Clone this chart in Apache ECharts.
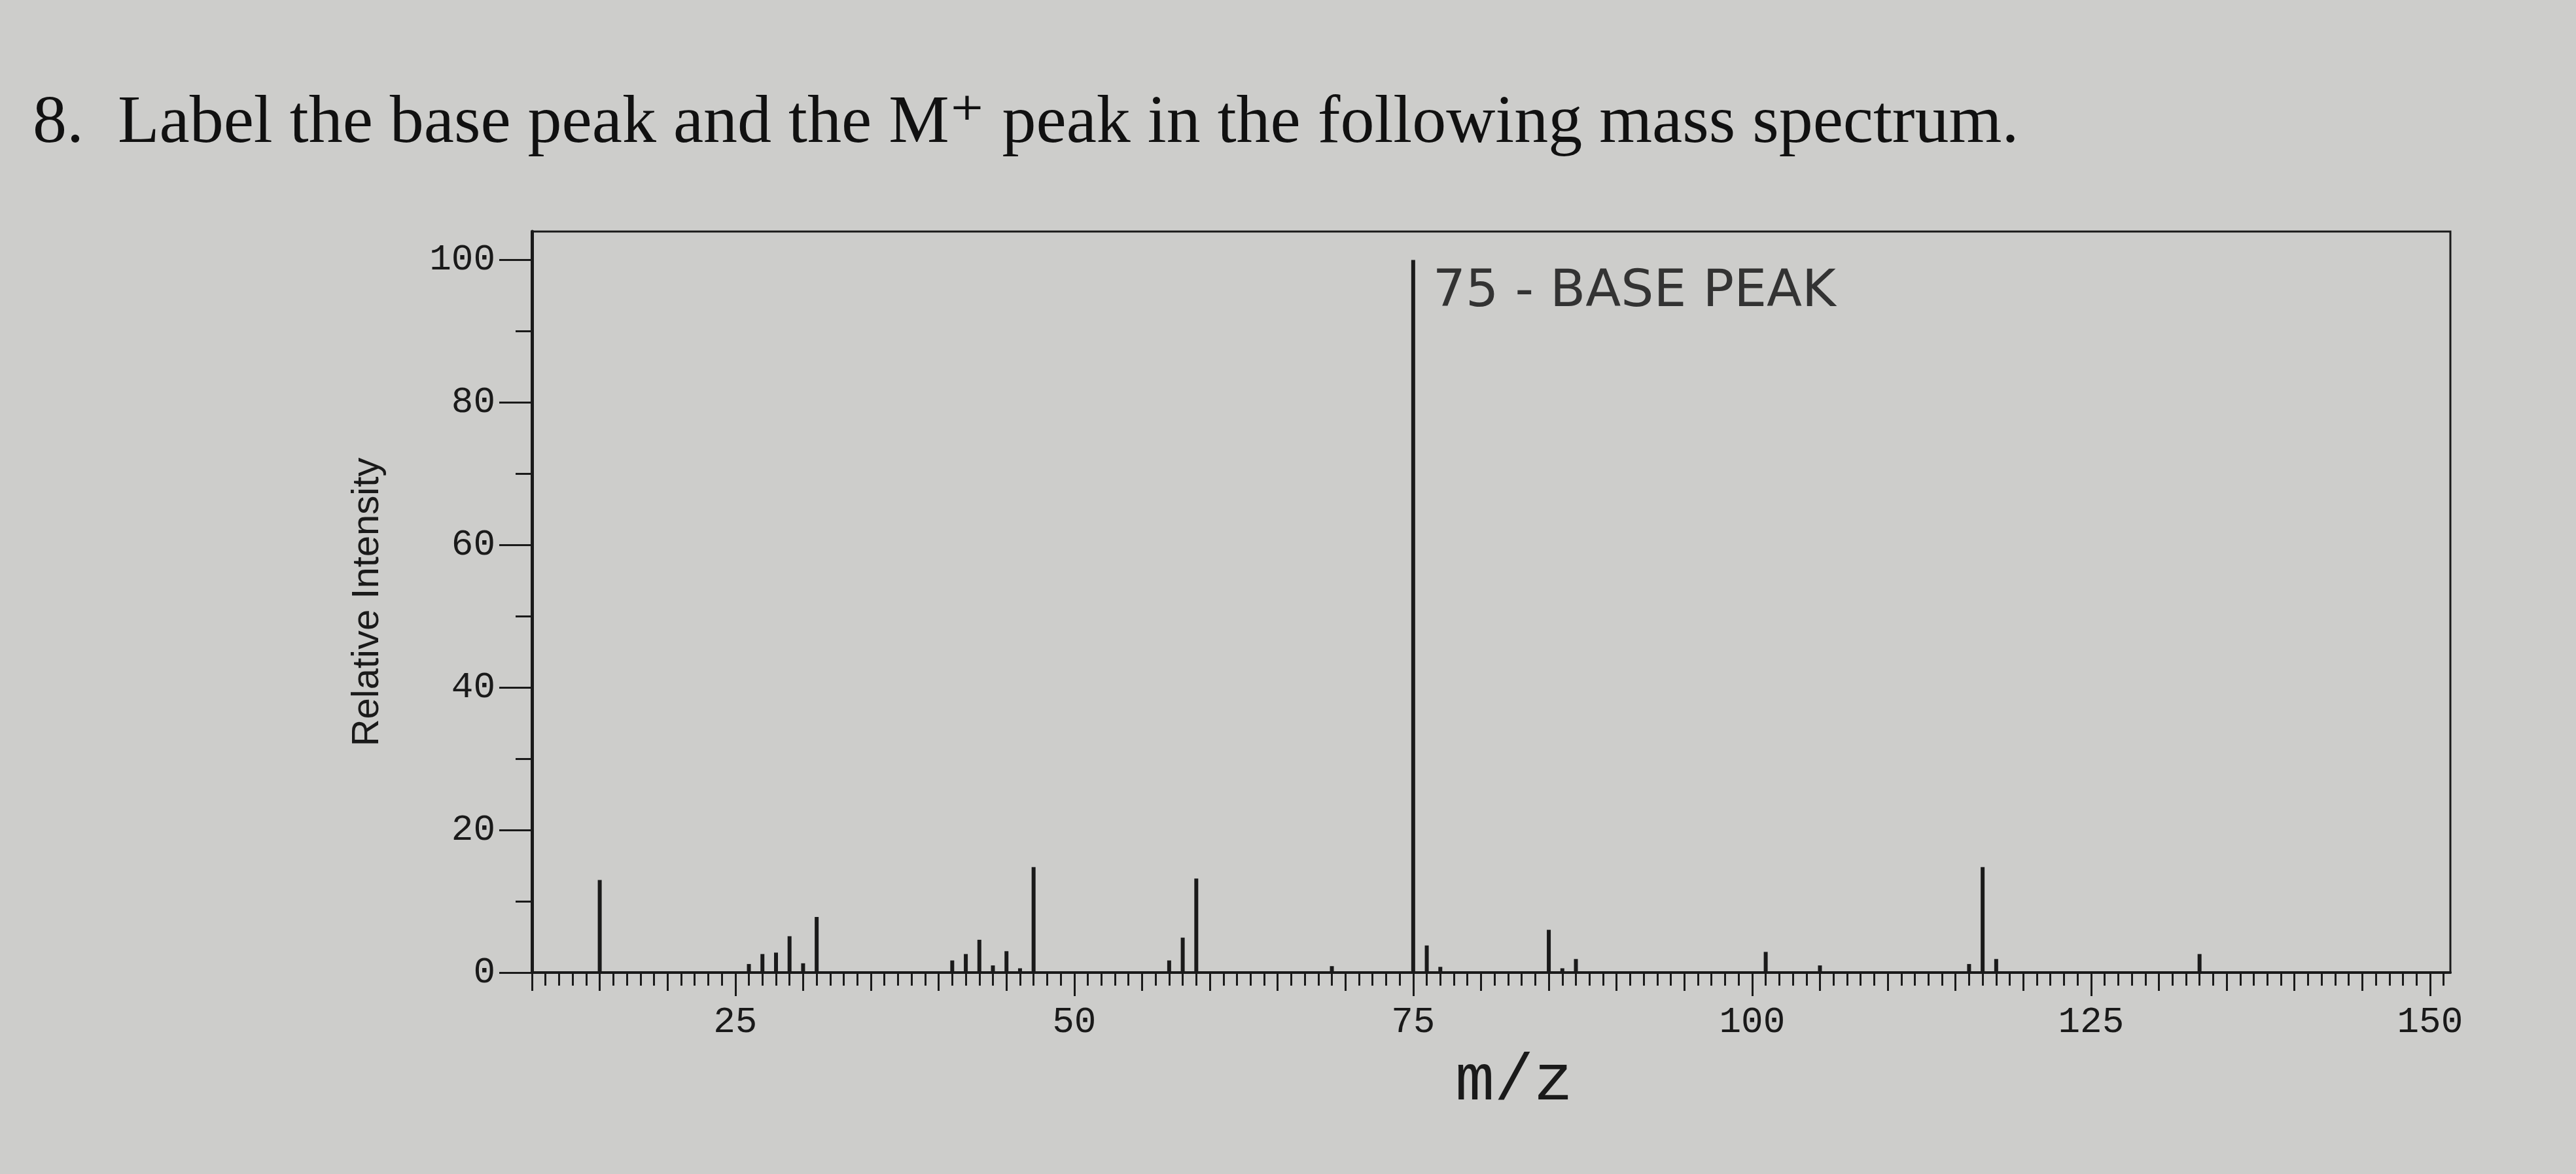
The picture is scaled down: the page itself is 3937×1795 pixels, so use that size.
<!DOCTYPE html>
<html>
<head>
<meta charset="utf-8">
<title>Mass spectrum</title>
<script src="https://cdn.jsdelivr.net/npm/echarts@6.0.0/dist/echarts.min.js"></script>
<style>
  html, body { margin: 0; padding: 0; background: #cdcdcb; }
  #spectrum { width: 3937px; height: 1795px; }
</style>
</head>
<body>
<div id="spectrum"></div>
<script>
// peaks: m/z and relative intensity (%)
var mz = [15, 26, 27, 28, 29, 30, 31, 41, 42, 43, 44, 45, 46, 47, 57, 58, 59, 69,
          75, 76, 77, 85, 86, 87, 101, 105, 116, 117, 118, 133];
var intensity = [13, 1.2, 2.6, 2.8, 5.1, 1.3, 7.8, 1.7, 2.6, 4.6, 1.0, 3.0, 0.6, 14.8, 1.7, 4.9, 13.2, 0.9,
                 100, 3.8, 0.8, 6.0, 0.6, 1.9, 2.9, 1.0, 1.2, 14.8, 1.9, 2.6];
var xLabels = [25, 50, 75, 100, 125, 150];
var yLabels = [0, 20, 40, 60, 80, 100];
var yMinor = [10, 30, 50, 70, 90];
var basePeak = 75;
var basePeakNote = '75 - BASE PEAK';
var question = '8.  Label the base peak and the M\u207A peak in the following mass spectrum.';

var chart = echarts.init(document.getElementById('spectrum'));
var ink = '#1a1a1a';
var monoFont = "'Liberation Mono', 'DejaVu Sans Mono', monospace";

function range(from, to, step) {
  var out = [];
  for (var v = from; v <= to; v += step) {
    out.push(v);
  }
  return out;
}

// one m/z axis per tick size, all stacked on the baseline
function mzAxis(ticks, tickLength) {
  return {
    type: 'value',
    min: 10,
    max: 151.5,
    position: 'bottom',
    axisLine: { show: false },
    axisTick: { show: true, inside: false, length: tickLength, customValues: ticks,
                lineStyle: { color: ink, width: 3 } },
    axisLabel: { show: false },
    splitLine: { show: false }
  };
}

var mainX = mzAxis(range(10, 151, 1), 20);
mainX.axisLine = { show: true, onZero: false, lineStyle: { color: ink, width: 4 } };
mainX.axisLabel = { show: true, customValues: xLabels, margin: 48,
                    fontFamily: monoFont, fontSize: 56, color: ink };
mainX.name = 'm/z';
mainX.nameLocation = 'middle';
mainX.nameGap = 118;
mainX.nameTextStyle = { fontFamily: monoFont, fontSize: 100, color: ink, padding: [0, 0, 0, 70] };

var peaks = mz.map(function (m, i) {
  return [m, intensity[i]];
});

var option = {
  backgroundColor: '#cdcdcb',
  animation: false,
  title: {
    text: question,
    left: 45,
    top: 133,
    textStyle: { fontFamily: "'Liberation Serif', 'DejaVu Serif', serif", fontSize: 104,
                 fontWeight: 'normal', color: '#111111' }
  },
  grid: {
    left: 813,
    right: 192,
    top: 354,
    bottom: 308,
    show: true,
    borderColor: ink,
    borderWidth: 3,
    backgroundColor: 'transparent'
  },
  xAxis: [mainX, mzAxis(range(10, 150, 5), 28), mzAxis(xLabels, 36)],
  yAxis: [{
    type: 'value',
    min: 0,
    max: 104,
    position: 'left',
    axisLine: { show: true, lineStyle: { color: ink, width: 5 } },
    axisTick: { show: true, length: 50, customValues: yLabels, lineStyle: { color: ink, width: 3 } },
    axisLabel: { customValues: yLabels, margin: 56, fontFamily: monoFont, fontSize: 56, color: ink },
    splitLine: { show: false },
    name: 'Relative Intensity',
    nameLocation: 'middle',
    nameGap: 222,
    nameTextStyle: { fontFamily: "'Liberation Sans Narrow', 'Liberation Sans', sans-serif",
                     fontSize: 58, color: ink }
  }, {
    type: 'value',
    min: 0,
    max: 104,
    position: 'left',
    axisLine: { show: false },
    axisTick: { show: true, length: 25, customValues: yMinor, lineStyle: { color: ink, width: 3 } },
    axisLabel: { show: false },
    splitLine: { show: false }
  }],
  series: [{
    type: 'bar',
    xAxisIndex: 0,
    yAxisIndex: 0,
    data: peaks,
    barWidth: 6,
    itemStyle: { color: ink },
    markPoint: {
      silent: true,
      symbol: 'circle',
      symbolSize: 0,
      data: [{ coord: [basePeak, 100] }],
      label: {
        show: true,
        position: 'right',
        distance: 30,
        offset: [0, 50],
        formatter: basePeakNote,
        fontFamily: "'DejaVu Sans', sans-serif",
        fontSize: 79,
        color: '#333333'
      }
    }
  }]
};

chart.setOption(option);
</script>
</body>
</html>
